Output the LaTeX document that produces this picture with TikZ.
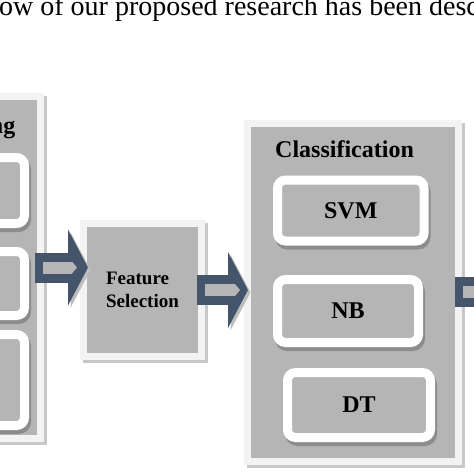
\documentclass[tikz,border=0pt]{standalone}
\usepackage{fontspec}
\setmainfont{Liberation Serif}
\usepackage{tikz}
\usetikzlibrary{arrows.meta, shadows}
\definecolor{boxgray}{RGB}{181,181,181}
\definecolor{framegray}{RGB}{243,243,243}
\definecolor{frameshadow}{RGB}{200,200,200}
\definecolor{boxshadow}{RGB}{140,140,140}
\definecolor{arrowblue}{RGB}{68,84,106}
\definecolor{arrowshadow}{RGB}{190,190,190}
\tikzset{
  container/.style={rectangle, draw=framegray, fill=boxgray, line width=7pt,
    general shadow={draw=frameshadow, fill=frameshadow, line width=7pt,
      shadow xshift=3pt, shadow yshift=-3pt}},
  method/.style={rectangle, draw=white, fill=boxgray, line width=9pt,
    rounded corners=8pt, font=\bfseries\fontsize{24}{28}\selectfont,
    general shadow={draw=boxshadow, fill=boxshadow, line width=9pt,
      shadow xshift=2pt, shadow yshift=-4pt}},
  title/.style={font=\bfseries\fontsize{24}{28}\selectfont, inner sep=0pt},
  bigarrow/.style 2 args={draw=arrowblue, line width=30pt,
    shorten <=#1, shorten >=#2,
    -{Triangle[length=20pt, width=76pt, line width=0pt]},
    preaction={draw=arrowshadow, transform canvas={xshift=2.5pt, yshift=-2.5pt}}},
  arrowcore/.style 2 args={draw=boxgray, line width=12pt,
    shorten <=#1, shorten >=#2,
    -{Triangle[length=5pt, width=12pt, line width=0pt]}}
}

\begin{document}
\begin{tikzpicture}[x=1pt, y=-1pt]
  \useasboundingbox (0,0) rectangle (474,474);
  \clip (0,0) rectangle (474,474);

  \node[anchor=base west, inner sep=0pt, font=\fontsize{28}{32}\selectfont] (caption)
    at (-1,15) {ow of our proposed research has been desc};

  % containers
  \node[container, minimum width=190.5pt, minimum height=342pt] (prep) at (-54.75,267.5) {};
  \node[container, minimum width=118pt, minimum height=133pt, align=left,
    font=\bfseries\fontsize{19}{23}\selectfont] (feat) at (142.5,290) {Feature\\Selection};
  \node[container, minimum width=211.5pt, minimum height=337.5pt] (classif) at (352.75,292.25) {};

  \node[title, anchor=base east] (preptitle) at (15.5,133) {ng};
  \node[title, anchor=base west] (classtitle) at (275,157) {Classification};

  % inner boxes
  \node[method, minimum width=140pt, minimum height=66pt] (prepa) at (-45.5,190.5) {};
  \node[method, minimum width=140pt, minimum height=64pt] (prepb) at (-45.5,283.5) {};
  \node[method, minimum width=140pt, minimum height=91pt] (prepc) at (-45.5,380) {};

  \node[method, minimum width=146.5pt, minimum height=61pt] (svm) at (350.75,210.5) {SVM};
  \node[method, minimum width=141pt, minimum height=63pt] (nb) at (348,311) {NB};
  \node[method, minimum width=143pt, minimum height=65pt] (dt) at (359,405) {DT};

  \coordinate (next) at (540,292.25);

  % block arrows
  \draw[bigarrow={-9pt}{-8pt}] (prep.east) -- (prep.east -| feat.west);
  \draw[arrowcore={-1pt}{3pt}] (prep.east) -- (prep.east -| feat.west);
  \draw[bigarrow={-8pt}{-4.5pt}] (feat.east) -- (feat.east -| classif.west);
  \draw[arrowcore={0pt}{3.5pt}] (feat.east) -- (feat.east -| classif.west);
  \draw[bigarrow={-7pt}{0pt}] (classif.east) -- (next);
  \draw[arrowcore={1pt}{8pt}] (classif.east) -- (next);
\end{tikzpicture}
\end{document}
